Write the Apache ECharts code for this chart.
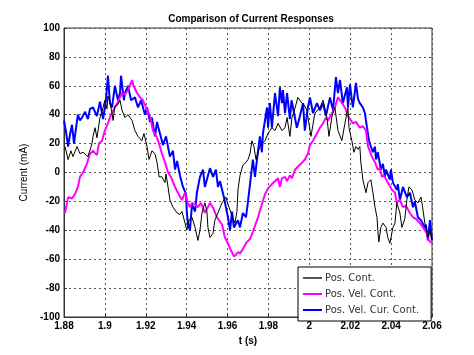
<!DOCTYPE html>
<html><head><meta charset="utf-8">
<script src="https://cdn.jsdelivr.net/npm/echarts@6/dist/echarts.min.js"></script>
<style>html,body{margin:0;padding:0;background:#fff}#c{width:474px;height:355px}</style>
</head><body><div id="c"></div>
<script>
// Pos. Vel. Cur. Cont. (blue)
const blueT = [1.8800,1.8810,1.8820,1.8829,1.8839,1.8849,1.8858,1.8868,1.8878,1.8888,1.8903,1.8917,1.8927,1.8942,1.8961,1.8976,1.8991,1.9005,1.9015,1.9025,1.9035,1.9049,1.9064,1.9074,1.9079,1.9093,1.9098,1.9113,1.9128,1.9147,1.9162,1.9177,1.9196,1.9206,1.9221,1.9230,1.9245,1.9255,1.9260,1.9284,1.9299,1.9318,1.9333,1.9343,1.9353,1.9367,1.9382,1.9397,1.9401,1.9406,1.9416,1.9426,1.9441,1.9450,1.9465,1.9480,1.9489,1.9514,1.9529,1.9543,1.9553,1.9563,1.9582,1.9592,1.9602,1.9612,1.9622,1.9631,1.9651,1.9661,1.9675,1.9690,1.9700,1.9714,1.9724,1.9734,1.9744,1.9758,1.9768,1.9773,1.9793,1.9798,1.9807,1.9817,1.9832,1.9847,1.9856,1.9866,1.9871,1.9881,1.9891,1.9905,1.9913,1.9920,1.9939,1.9954,1.9969,1.9978,1.9993,2.0003,2.0018,2.0037,2.0052,2.0067,2.0081,2.0101,2.0116,2.0130,2.0140,2.0150,2.0164,2.0184,2.0189,2.0199,2.0208,2.0213,2.0228,2.0238,2.0247,2.0262,2.0272,2.0282,2.0292,2.0301,2.0311,2.0321,2.0326,2.0335,2.0350,2.0360,2.0370,2.0375,2.0394,2.0399,2.0409,2.0428,2.0433,2.0443,2.0458,2.0477,2.0492,2.0507,2.0516,2.0531,2.0546,2.0565,2.0570,2.0580,2.0590,2.0600];
const blueV = [36,28,18,26,33,20,30,40,36,38,42,37,44,45,39,49,37,50,67,48,45,60,50,55,67,50,55,60,50,52,45,50,40,45,35,38,25,35,32,19,25,11,15,2,8,-2,-10,-15,-28,-35,-40,-22,-27,-14,-3,2,-10,3,-3,2,-10,-6,-17,-24,-31,-40,-27,-38,-33,-38,-28,-31,-20,-3,9,-3,9,25,14,27,45,31,48,31,55,39,59,48,57,41,55,37,50,45,31,39,48,29,45,52,41,48,43,48,39,52,43,66,55,64,48,59,45,61,50,45,62,51,48,45,41,31,22,18,14,18,9,14,2,6,-3,2,-5,2,-7,-12,-8,-19,-10,-17,-14,-24,-20,-31,-33,-38,-36,-47,-33,-47];

// Pos. Vel. Cont. (magenta)
const magT = [1.8805,1.8820,1.8839,1.8854,1.8868,1.8878,1.8893,1.8912,1.8927,1.8942,1.8961,1.8971,1.8986,1.9000,1.9015,1.9030,1.9049,1.9064,1.9084,1.9098,1.9113,1.9133,1.9140,1.9157,1.9172,1.9186,1.9201,1.9221,1.9235,1.9255,1.9265,1.9279,1.9294,1.9309,1.9323,1.9343,1.9357,1.9377,1.9392,1.9406,1.9416,1.9426,1.9441,1.9455,1.9470,1.9489,1.9514,1.9528,1.9548,1.9573,1.9587,1.9602,1.9617,1.9631,1.9641,1.9651,1.9661,1.9675,1.9695,1.9710,1.9724,1.9734,1.9749,1.9768,1.9783,1.9798,1.9817,1.9832,1.9847,1.9856,1.9866,1.9881,1.9891,1.9905,1.9915,1.9930,1.9944,1.9959,1.9978,1.9993,2.0003,2.0018,2.0037,2.0052,2.0067,2.0081,2.0091,2.0111,2.0125,2.0140,2.0155,2.0174,2.0189,2.0199,2.0213,2.0228,2.0247,2.0262,2.0277,2.0287,2.0306,2.0321,2.0335,2.0345,2.0355,2.0365,2.0384,2.0404,2.0419,2.0428,2.0443,2.0458,2.0472,2.0492,2.0507,2.0521,2.0541,2.0556,2.0575,2.0585,2.0600];
const magV = [-28,-17,-18,-15,-10,-3,0,6,13,15,12,20,22,29,34,40,45,49,55,54,57,64,60,55,52,50,45,39,29,24,20,13,7,0,-3,-10,-14,-19,-14,-21,-24,-21,-22,-24,-21,-28,-21,-24,-31,-36,-45,-49,-54,-58,-57,-55,-56,-53,-48,-46,-41,-37,-31,-22,-15,-11,-8,-6,-4,-10,-4,-3,-6,-2,-4,2,4,6,9,13,19,22,27,31,34,38,36,41,45,52,49,45,39,37,34,35,31,32,29,18,11,7,2,3,-3,-2,-7,-12,-14,-21,-19,-24,-23,-28,-31,-32,-35,-38,-42,-47,-49];

// Pos. Cont. (black)
const blkT = [1.8805,1.8820,1.8834,1.8844,1.8864,1.8878,1.8893,1.8917,1.8937,1.8942,1.8952,1.8961,1.8976,1.8991,1.9000,1.9010,1.9015,1.9025,1.9035,1.9040,1.9049,1.9064,1.9074,1.9084,1.9098,1.9113,1.9133,1.9147,1.9162,1.9181,1.9191,1.9206,1.9216,1.9230,1.9245,1.9255,1.9265,1.9279,1.9294,1.9299,1.9309,1.9318,1.9333,1.9353,1.9367,1.9377,1.9392,1.9401,1.9411,1.9426,1.9441,1.9455,1.9465,1.9475,1.9489,1.9499,1.9504,1.9514,1.9529,1.9538,1.9553,1.9573,1.9592,1.9602,1.9622,1.9636,1.9646,1.9651,1.9661,1.9675,1.9690,1.9700,1.9710,1.9719,1.9729,1.9739,1.9758,1.9783,1.9798,1.9817,1.9832,1.9847,1.9866,1.9881,1.9891,1.9905,1.9915,1.9925,1.9944,1.9964,1.9974,1.9988,2.0008,2.0027,2.0052,2.0067,2.0086,2.0096,2.0111,2.0125,2.0140,2.0159,2.0174,2.0189,2.0194,2.0208,2.0218,2.0228,2.0238,2.0247,2.0252,2.0262,2.0277,2.0287,2.0301,2.0311,2.0321,2.0331,2.0335,2.0340,2.0350,2.0360,2.0375,2.0384,2.0394,2.0409,2.0419,2.0428,2.0443,2.0453,2.0467,2.0477,2.0487,2.0502,2.0516,2.0531,2.0546,2.0551,2.0565,2.0580,2.0590,2.0600];
const blkV = [18,9,15,11,18,13,14,11,20,25,31,24,38,45,50,44,53,48,41,36,46,47,50,43,38,40,36,29,25,22,27,18,9,15,13,7,-3,-3,-7,-1,-10,-19,-24,-28,-29,-27,-35,-40,-33,-31,-38,-47,-40,-28,-21,-27,-38,-45,-42,-33,-28,-21,-17,-22,-30,-35,-27,-12,-2,5,7,9,13,22,18,9,18,22,27,31,29,34,29,31,38,25,38,42,52,48,47,43,25,41,45,50,38,25,39,45,29,22,34,45,31,22,14,18,16,18,7,-5,-14,-7,-5,-14,-24,-31,-40,-48,-38,-35,-38,-45,-49,-38,-35,-21,-28,-38,-32,-19,-10,-12,-19,-21,-17,-21,-35,-45,-40,-47];

const xTicks = [1.88, 1.90, 1.92, 1.94, 1.96, 1.98, 2.00, 2.02, 2.04, 2.06];
const yTicks = [-100, -80, -60, -40, -20, 0, 20, 40, 60, 80, 100];
const seriesNames = ['Pos. Cont.', 'Pos. Vel. Cont.', 'Pos. Vel. Cur. Cont.'];

const zip = (t, v) => t.map((x, i) => [x, v[i]]);
const tickFont = {fontFamily: 'Liberation Sans', fontWeight: 'bold', fontSize: 10, color: '#000'};
const gridLine = {show: true, lineStyle: {color: '#555', type: [2, 3], width: 1}};

const chart = echarts.init(document.getElementById('c'), null, {renderer: 'canvas'});
chart.setOption({
  animation: false,
  backgroundColor: '#fff',
  title: {text: 'Comparison of Current Responses', left: 246, top: 9, textAlign: 'center',
    textStyle: {fontFamily: 'Liberation Sans', fontWeight: 'bold', fontSize: 10, color: '#000'}},
  grid: {left: 64, right: 42, top: 28, bottom: 38, show: true, borderColor: '#333', borderWidth: 1, backgroundColor: 'transparent'},
  xAxis: {type: 'value', min: xTicks[0], max: xTicks[xTicks.length - 1], interval: 0.02,
    name: 't (s)', nameLocation: 'middle', nameGap: 18,
    nameTextStyle: {fontFamily: 'Liberation Sans', fontWeight: 'bold', fontSize: 10, color: '#000'},
    axisLine: {show: true, onZero: false, lineStyle: {color: '#333'}},
    axisTick: {show: true, inside: true, length: 3, lineStyle: {color: '#333'}},
    axisLabel: Object.assign({margin: 4, formatter: v => String(parseFloat(v.toFixed(2)))}, tickFont),
    splitLine: gridLine},
  yAxis: {type: 'value', min: yTicks[0], max: yTicks[yTicks.length - 1], interval: 20,
    name: 'Current (mA)', nameLocation: 'middle', nameGap: 32, nameRotate: 90,
    nameTextStyle: {fontFamily: 'Liberation Sans', fontSize: 10, color: '#000'},
    axisLine: {show: true, onZero: false, lineStyle: {color: '#333'}},
    axisTick: {show: true, inside: true, length: 3, lineStyle: {color: '#333'}},
    axisLabel: Object.assign({margin: 4}, tickFont),
    splitLine: gridLine},
  legend: {orient: 'vertical', left: 298, top: 267,
    backgroundColor: '#fff', borderColor: '#000', borderWidth: 1,
    padding: [5, 12, 5, 5], itemGap: 4, itemWidth: 19, itemHeight: 2,
    textStyle: {fontFamily: 'DejaVu Sans', fontSize: 10, color: '#333', padding: [0, 0, 0, -2], lineHeight: 12},
    data: [
      {name: seriesNames[0], icon: 'rect', itemStyle: {color: '#555'}},
      {name: seriesNames[1], icon: 'rect', itemStyle: {color: '#ff00ff'}},
      {name: seriesNames[2], icon: 'rect', itemStyle: {color: '#0000ff'}}
    ]},
  series: [
    {name: seriesNames[0], type: 'line', data: zip(blkT, blkV), symbol: 'none', z: 4,
      lineStyle: {color: '#000', width: 1}, itemStyle: {color: '#000'}},
    {name: seriesNames[1], type: 'line', data: zip(magT, magV), symbol: 'none', z: 3,
      lineStyle: {color: '#ff00ff', width: 2}, itemStyle: {color: '#ff00ff'}},
    {name: seriesNames[2], type: 'line', data: zip(blueT, blueV), symbol: 'none', z: 2,
      lineStyle: {color: '#0000ff', width: 2}, itemStyle: {color: '#0000ff'}}
  ]
});
</script></body></html>
